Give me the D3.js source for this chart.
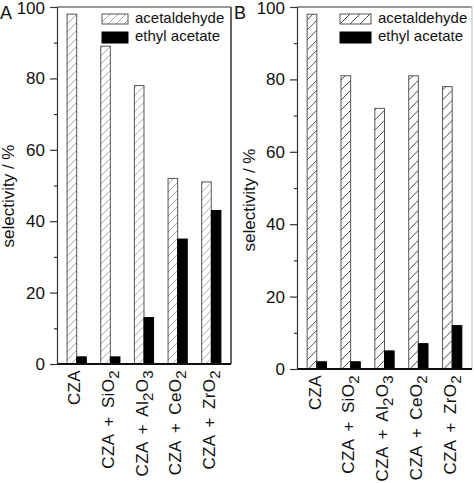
<!DOCTYPE html>
<html>
<head>
<meta charset="utf-8">
<script src="https://cdn.jsdelivr.net/npm/d3@7"></script>
<style>
  body { margin: 0; background: #fff; }
  svg { display: block; font-family: "Liberation Sans", Arial, sans-serif; }
</style>
</head>
<body>
<div id="chart"></div>
<script>
// data
const categories = ["CZA", "CZA + SiO_2", "CZA + Al_2O_3", "CZA + CeO_2", "CZA + ZrO_2"];
const seriesNames = ["acetaldehyde", "ethyl acetate"];
const acetaldehydeA = [98, 89, 78, 52, 51];
const ethylAcetateA = [2, 2, 13, 35, 43];
const acetaldehydeB = [98, 81, 72, 81, 78];
const ethylAcetateB = [2, 2, 5, 7, 12];
const yTicks = [0, 20, 40, 60, 80, 100];
const yMinorTicks = [10, 30, 50, 70, 90];

const width = 474, height = 483;

const svg = d3.select("#chart").append("svg")
  .attr("width", width)
  .attr("height", height);

const defs = svg.append("defs");

// hatch patterns, one light (A) and one darker (B)
function addHatch(id, size, color) {
  const p = defs.append("pattern")
    .attr("id", id)
    .attr("patternUnits", "userSpaceOnUse")
    .attr("width", size)
    .attr("height", size);
  p.append("rect").attr("width", size).attr("height", size).attr("fill", "#fff");
  p.append("path")
    .attr("d", `M-1,${size + 1} L${size + 1},-1 M-2,2 L2,-2 M${size - 2},${size + 2} L${size + 2},${size - 2}`)
    .attr("stroke", color)
    .attr("stroke-width", 1);
}
addHatch("hatchA", 8, "#a8a8a8");
addHatch("hatchB", 10, "#4a4a4a");

// label with "_2" style subscripts -> tspans
function writeLabel(textSel, label) {
  const parts = label.split(/_(\d)/).filter(p => p !== "");
  let shifted = false;
  parts.forEach(part => {
    const isSub = /^\d$/.test(part);
    const ts = textSel.append("tspan").text(part);
    if (isSub) {
      ts.attr("dy", "5px").attr("font-size", "15px");
      shifted = true;
    } else if (shifted) {
      ts.attr("dy", "-5px");
      shifted = false;
    }
  });
}

function drawPanel(cfg) {
  const g = svg.append("g");

  const x = d3.scaleBand()
    .domain(categories)
    .range([cfg.left, cfg.right])
    .paddingInner(0.43)
    .paddingOuter(0.3);

  const xSub = d3.scaleBand()
    .domain(seriesNames)
    .range([0, x.bandwidth()]);

  const y = d3.scaleLinear()
    .domain([0, 100])
    .range([cfg.bottom, cfg.top]);

  const rows = categories.map((c, i) => ({
    cat: c,
    vals: [
      { key: seriesNames[0], v: cfg.acetaldehyde[i] },
      { key: seriesNames[1], v: cfg.ethylAcetate[i] }
    ]
  }));

  // bars
  const groups = g.selectAll(".grp")
    .data(rows)
    .enter()
    .append("g")
    .attr("class", "grp")
    .attr("transform", d => `translate(${x(d.cat)},0)`);

  groups.selectAll("rect")
    .data(d => d.vals)
    .enter()
    .append("rect")
    .attr("x", d => xSub(d.key))
    .attr("y", d => y(d.v))
    .attr("width", xSub.bandwidth())
    .attr("height", d => y(0) - y(d.v))
    .attr("fill", d => d.key === seriesNames[0] ? `url(#${cfg.hatch})` : "#000")
    .attr("stroke", d => d.key === seriesNames[0] ? "#555" : "#000")
    .attr("stroke-width", 1);

  // frame
  g.append("line")
    .attr("x1", cfg.left).attr("x2", cfg.right)
    .attr("y1", cfg.top).attr("y2", cfg.top)
    .attr("stroke", "#333").attr("stroke-width", 1.2);
  g.append("line")
    .attr("x1", cfg.right).attr("x2", cfg.right)
    .attr("y1", cfg.top).attr("y2", cfg.bottom)
    .attr("stroke", cfg.rightColor).attr("stroke-width", 1.5);
  g.append("line")
    .attr("x1", cfg.left).attr("x2", cfg.right)
    .attr("y1", cfg.bottom).attr("y2", cfg.bottom)
    .attr("stroke", "#111").attr("stroke-width", 2);

  // y axis, major + minor ticks
  const yAxis = g.append("g")
    .attr("transform", `translate(${cfg.left},0)`)
    .call(d3.axisLeft(y).tickValues(yTicks).tickSize(7).tickPadding(5).tickFormat(d3.format("d")));
  yAxis.select(".domain").attr("stroke", "#333").attr("stroke-width", 1.2);
  yAxis.selectAll(".tick line").attr("stroke", "#333").attr("stroke-width", 1.2);
  yAxis.selectAll(".tick text")
    .attr("font-size", "17px")
    .attr("font-family", "'Liberation Sans', Arial, sans-serif")
    .attr("fill", "#111");
  // keep the top label inside the page
  yAxis.selectAll(".tick text").filter(d => d === 100).attr("dy", "0.4em");

  const yMinor = g.append("g")
    .attr("transform", `translate(${cfg.left},0)`)
    .call(d3.axisLeft(y).tickValues(yMinorTicks).tickSize(3).tickFormat(""));
  yMinor.select(".domain").remove();
  yMinor.selectAll(".tick line").attr("stroke", "#333").attr("stroke-width", 1.2);

  // x labels, rotated
  categories.forEach(c => {
    const cx = x(c) + x.bandwidth() / 2;
    const t = g.append("text")
      .attr("transform", `translate(${cx},${cfg.bottom + 6}) rotate(-90)`)
      .attr("text-anchor", "end")
      .attr("dy", "0.22em")
      .attr("font-size", "17px")
      .attr("letter-spacing", "0.35px")
      .attr("word-spacing", "3px")
      .attr("fill", "#111");
    writeLabel(t, c);
  });

  // y title
  g.append("text")
    .attr("transform", `translate(${cfg.titleX},${cfg.titleY}) rotate(-90)`)
    .attr("text-anchor", "middle")
    .attr("font-size", "17px")
    .attr("fill", "#111")
    .text("selectivity / %");

  // panel letter
  g.append("text")
    .attr("x", cfg.letterX)
    .attr("y", 19)
    .attr("font-size", "18px")
    .attr("fill", "#111")
    .text(cfg.letter);

  // legend
  const legend = g.selectAll(".legend")
    .data(seriesNames)
    .enter()
    .append("g")
    .attr("class", "legend")
    .attr("transform", (d, i) => `translate(${cfg.legendX},${i === 0 ? 14 : 32})`);
  legend.append("rect")
    .attr("width", cfg.legendW)
    .attr("height", (d, i) => i === 0 ? 10 : 11)
    .attr("fill", (d, i) => i === 0 ? `url(#${cfg.hatch})` : "#000")
    .attr("stroke", (d, i) => i === 0 ? "#555" : "#000");
  legend.append("text")
    .attr("x", cfg.legendW + 7)
    .attr("y", 9)
    .attr("font-size", "15px")
    .attr("fill", "#111")
    .text(d => d);
}

drawPanel({
  letter: "A", letterX: 0,
  left: 57, right: 231, top: 7, bottom: 364,
  acetaldehyde: acetaldehydeA, ethylAcetate: ethylAcetateA,
  hatch: "hatchA", rightColor: "#333",
  titleX: 14, titleY: 196,
  legendX: 102, legendW: 26
});

drawPanel({
  letter: "B", letterX: 234,
  left: 297, right: 472, top: 7, bottom: 369,
  acetaldehyde: acetaldehydeB, ethylAcetate: ethylAcetateB,
  hatch: "hatchB", rightColor: "#ccc",
  titleX: 255, titleY: 200,
  legendX: 340, legendW: 31
});
</script>
</body>
</html>
